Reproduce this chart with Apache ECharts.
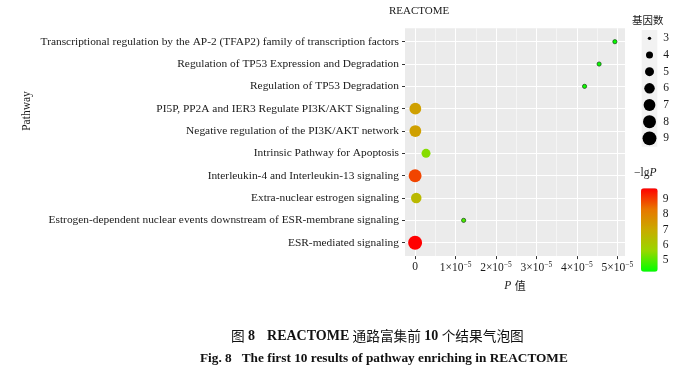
<!DOCTYPE html>
<html><head><meta charset="utf-8">
<script src="https://cdn.jsdelivr.net/npm/echarts@6/dist/echarts.min.js"></script>
<style>html,body{margin:0;padding:0;background:#fff}#c{width:698px;height:387px}</style>
</head><body><div id="c"></div>
<script>
// ---- data (bottom to top) ----
const pathways = [
  'ESR-mediated signaling',
  'Estrogen-dependent nuclear events downstream of ESR-membrane signaling',
  'Extra-nuclear estrogen signaling',
  'Interleukin-4 and Interleukin-13 signaling',
  'Intrinsic Pathway for Apoptosis',
  'Negative regulation of the PI3K/AKT network',
  'PI5P, PP2A and IER3 Regulate PI3K/AKT Signaling',
  'Regulation of TP53 Degradation',
  'Regulation of TP53 Expression and Degradation',
  'Transcriptional regulation by the AP-2 (TFAP2) family of transcription factors'
];
const pValues   = [2e-10, 1.2e-5, 2.8e-7, 1.3e-9, 2.7e-6, 5.8e-8, 5.8e-8, 4.19e-5, 4.55e-5, 4.94e-5];
const geneCounts = [9, 3, 6, 8, 5, 7, 7, 3, 3, 3];
const negLgP    = [9.7, 4.92, 6.55, 8.9, 5.45, 7.25, 7.25, 4.38, 4.34, 4.31];
const xTickValues = [0, 1e-5, 2e-5, 3e-5, 4e-5, 5e-5];
const xMinorValues = [0.5e-5, 1.5e-5, 2.5e-5, 3.5e-5, 4.5e-5];
const sizeLegendValues = [3, 4, 5, 6, 7, 8, 9];
const colorTickValues = [5, 6, 7, 8, 9];

const SERIF = '"Liberation Serif","Times New Roman",serif';
const CJK = '"Noto Sans CJK SC",sans-serif';
function dotSize(n) { return Math.max(3.4, 2.2 + 4.8 * Math.sqrt(n - 3)); }
const ROWS = pathways.map((_, i) => i + 1);

const chart = echarts.init(document.getElementById('c'), null, {renderer: 'canvas'});
chart.setOption({
  animation: false,
  backgroundColor: '#fff',
  grid: [
    {left: 405, top: 28.3, width: 220, height: 227.8, show: true, backgroundColor: '#EBEBEB', borderWidth: 0},
    {left: 641.7, top: 30, width: 15.6, height: 116.7, show: true, backgroundColor: '#F2F2F2', borderWidth: 0},
    {left: 641, top: 188.3, width: 16.7, height: 83.4, show: false}
  ],
  xAxis: [
    {type: 'value', gridIndex: 0, min: -2.5e-6, max: 5.19e-5,
     axisLine: {show: false, onZero: false},
     axisTick: {show: true, customValues: xTickValues, length: 3, lineStyle: {color: '#333', width: 1}},
     axisLabel: {customValues: xTickValues, margin: 5, color: '#1a1a1a', fontFamily: SERIF, fontSize: 11.5,
       formatter: v => { const k = Math.round(v / 1e-5); return k === 0 ? '0' : k + '×10{sup|−5}'; },
       rich: {sup: {fontSize: 7.5, fontFamily: SERIF, color: '#1a1a1a', verticalAlign: 'top', padding: [0, 0, 5, 0]}}},
     splitLine: {show: true, lineStyle: {color: '#fff', width: 1.1}},
     name: '{i|P} {c|值}', nameLocation: 'middle', nameGap: 24, nameMoveOverlap: false,
     nameTextStyle: {rich: {i: {fontFamily: SERIF, fontStyle: 'italic', fontSize: 11.5, color: '#1a1a1a'},
                            c: {fontFamily: CJK, fontSize: 11, color: '#1a1a1a'}}}},
    {type: 'value', gridIndex: 0, min: -2.5e-6, max: 5.19e-5,
     axisLine: {show: false, onZero: false}, axisTick: {show: false, customValues: xMinorValues},
     axisLabel: {show: false, customValues: xMinorValues},
     splitLine: {show: true, lineStyle: {color: '#fff', width: 0.5}}},
    {type: 'value', gridIndex: 1, min: -1, max: 1, show: false},
    {type: 'value', gridIndex: 2, min: 0, max: 1, show: false}
  ],
  yAxis: [
    {type: 'value', gridIndex: 0, min: 0.4, max: 10.6,
     axisLine: {show: false, onZero: false},
     axisTick: {show: true, customValues: ROWS, length: 3, lineStyle: {color: '#333', width: 1}},
     axisLabel: {customValues: ROWS, margin: 6, color: '#1a1a1a', fontFamily: SERIF, fontSize: 11.4,
                 formatter: v => pathways[Math.round(v) - 1]},
     splitLine: {show: true, lineStyle: {color: '#fff', width: 1.1}}},
    {type: 'category', gridIndex: 1, data: sizeLegendValues.map(String), inverse: true, position: 'right',
     axisLine: {show: false, onZero: false}, axisTick: {show: false},
     axisLabel: {margin: 6, color: '#1a1a1a', fontFamily: SERIF, fontSize: 11.5}, splitLine: {show: false}},
    {type: 'value', gridIndex: 2, min: 4.25, max: 9.7, position: 'right',
     axisLine: {show: false, onZero: false},
     axisTick: {show: true, inside: true, customValues: colorTickValues, length: 3, lineStyle: {color: '#fff', width: 1}},
     axisLabel: {customValues: colorTickValues, margin: 5, color: '#1a1a1a', fontFamily: SERIF, fontSize: 11.5},
     splitLine: {show: false}},
    {type: 'value', gridIndex: 2, min: 4.25, max: 9.7, position: 'left',
     axisLine: {show: false, onZero: false},
     axisTick: {show: true, inside: true, customValues: colorTickValues, length: 3, lineStyle: {color: '#fff', width: 1}},
     axisLabel: {show: false, customValues: colorTickValues}, splitLine: {show: false}}
  ],
  visualMap: [{
    type: 'continuous', seriesIndex: 0, dimension: 3, min: 4.25, max: 9.7,
    inRange: {color: ['#00FF00', '#98D700', '#C9AB00', '#E87600', '#FF0000']},
    left: 641, top: 188.3, itemWidth: 16.7, itemHeight: 83.4, padding: 0,
    calculable: false, hoverLink: false, text: null, z: 1
  }],
  series: [
    {type: 'scatter', xAxisIndex: 0, yAxisIndex: 0, z: 5,
     symbolSize: val => (val[2] <= 3 ? 4.2 : dotSize(val[2])),
     emphasis: {disabled: true},
     data: pathways.map((_, i) => ({
       value: [pValues[i], i + 1, geneCounts[i], negLgP[i]],
       itemStyle: geneCounts[i] <= 3 ? {opacity: 1, borderColor: 'rgba(20,70,20,0.9)', borderWidth: 0.8} : {opacity: 1, borderWidth: 0}
     }))},
    {type: 'scatter', xAxisIndex: 2, yAxisIndex: 1, z: 5,
     symbolSize: val => dotSize(val[2]),
     emphasis: {disabled: true},
     itemStyle: {color: '#000', opacity: 1},
     data: sizeLegendValues.map(v => [0, String(v), v])}
  ],
  graphic: [
    {type: 'text', left: 389, top: 6, style: {text: 'REACTOME', fontFamily: SERIF, fontSize: 11, fill: '#1a1a1a'}},
    {type: 'text', x: 27, y: 111, rotation: Math.PI / 2,
     style: {text: 'Pathway', fontFamily: SERIF, fontSize: 11.5, fill: '#1a1a1a', align: 'center', verticalAlign: 'middle'}},
    {type: 'text', x: 632, y: 20,
     style: {text: '基因数', fontFamily: CJK, fontSize: 10.5, fill: '#1a1a1a', align: 'left', verticalAlign: 'middle'}},
    {type: 'text', x: 634, y: 173,
     style: {text: '{a|−lg}{i|P}', align: 'left', verticalAlign: 'middle',
             rich: {a: {fontFamily: SERIF, fontSize: 11.5, fill: '#1a1a1a'},
                    i: {fontFamily: SERIF, fontSize: 11.5, fontStyle: 'italic', fill: '#1a1a1a'}}}},
    {type: 'text', x: 231, y: 336,
     style: {text: '{n|图} {b|8}　{b|REACTOME} {n|通路富集前} {b|10} {n|个结果气泡图}', align: 'left', verticalAlign: 'middle',
             rich: {n: {fontFamily: CJK, fontSize: 13.7, fill: '#111'},
                    b: {fontFamily: SERIF, fontSize: 14, fontWeight: 'bold', fill: '#111'}}}},
    {type: 'text', x: 200, y: 359,
     style: {text: 'Fig. 8   The first 10 results of pathway enriching in REACTOME', align: 'left', verticalAlign: 'middle',
             fontFamily: SERIF, fontSize: 13.3, fontWeight: 'bold', fill: '#111'}}
  ]
});
</script>
</body></html>
